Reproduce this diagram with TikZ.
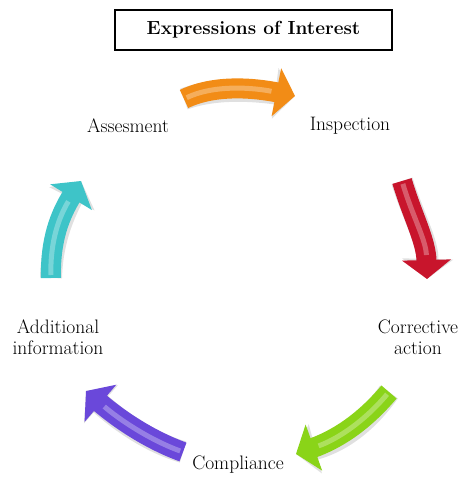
\documentclass[tikz,border=0pt]{standalone}
\usepackage{tikz}
\usepackage{xcolor}
\usetikzlibrary{positioning, arrows.meta}
\definecolor{arrorange}{HTML}{F28C16}
\definecolor{arrred}{HTML}{C8152C}
\definecolor{arrgreen}{HTML}{8AD418}
\definecolor{arrpurple}{HTML}{6A48DA}
\definecolor{arrcyan}{HTML}{3EC4C8}
\tikzset{
    stage/.style={font=\fontsize{19.5}{21}\selectfont, align=center, inner sep=1pt},
    titlebox/.style={draw=black, line width=1.2pt, minimum width=277pt, minimum height=40pt, font=\fontsize{19}{21}\selectfont\bfseries},
    flow/.style={draw=#1, line width=20pt, -{Triangle[length=19pt, width=48pt]}},
    shine/.style={draw=white, opacity=0.3, line width=5pt, shorten >=24pt, shorten <=3pt},
    shadow/.style={draw=black, opacity=0.12, line width=22pt, -{Triangle[length=20pt, width=50pt]}}
}
\begin{document}
\begin{tikzpicture}[x=1pt, y=-1pt]
\useasboundingbox (0,0) rectangle (474,486);
% Title
\node[titlebox] (title) at (253.5,30) {Expressions of Interest};

% Stage labels
\node[stage] (assess) at (128,126) {Assesment};
\node[stage] (inspect) at (350,126) {Inspection};
\node[stage] (correct) at (418,337) {Corrective\\action};
\node[stage] (comply) at (238,465) {Compliance};
\node[stage] (addinfo) at (58,337) {Additional\\information};

% Arrow end points
\coordinate (o1) at (184,99);
\coordinate (o2) at (295,96);
\coordinate (r1) at (402,181);
\coordinate (r2) at (427,279);
\coordinate (g1) at (389,392);
\coordinate (g2) at (296,454);
\coordinate (p1) at (183,452);
\coordinate (p2) at (86,391);
\coordinate (c1) at (51,278);
\coordinate (c2) at (81,181);

% Shadows
\begin{scope}[xshift=2pt, yshift=-3pt]
    \draw[shadow] (o1) .. controls (215,84) and (255,88) .. (o2);
    \draw[shadow] (r1) .. controls (412,215) and (426,240) .. (r2);
    \draw[shadow] (g1) .. controls (362,424) and (335,440) .. (g2);
    \draw[shadow] (p1) .. controls (150,440) and (120,420) .. (p2);
    \draw[shadow] (c1) .. controls (50,240) and (60,215) .. (c2);
\end{scope}

% Cycle arrows
\draw[flow=arrorange] (o1) .. controls (215,84) and (255,88) .. (o2);
\draw[flow=arrred] (r1) .. controls (412,215) and (426,240) .. (r2);
\draw[flow=arrgreen] (g1) .. controls (362,424) and (335,440) .. (g2);
\draw[flow=arrpurple] (p1) .. controls (150,440) and (120,420) .. (p2);
\draw[flow=arrcyan] (c1) .. controls (50,240) and (60,215) .. (c2);

% Highlights
\draw[shine] (o1) .. controls (215,84) and (255,88) .. (o2);
\draw[shine] (r1) .. controls (412,215) and (426,240) .. (r2);
\draw[shine] (g1) .. controls (362,424) and (335,440) .. (g2);
\draw[shine] (p1) .. controls (150,440) and (120,420) .. (p2);
\draw[shine] (c1) .. controls (50,240) and (60,215) .. (c2);
\end{tikzpicture}
\end{document}
